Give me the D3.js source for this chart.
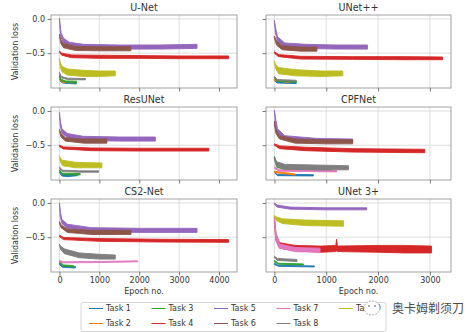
<!DOCTYPE html>
<html><head><meta charset="utf-8">
<script src="https://cdn.jsdelivr.net/npm/d3@7"></script>
<style>html,body{margin:0;padding:0;background:#fff;}svg{display:block;font-family:"DejaVu Sans",sans-serif;}</style>
</head><body>
<script>
// ---------- data ----------
const panelTitles = ["U-Net", "UNet++", "ResUNet", "CPFNet", "CS2-Net", "UNet 3+"];
const taskNames = ["Task 1","Task 2","Task 3","Task 4","Task 5","Task 6","Task 7","Task 8","Task 9"];
const taskColors = ["#1f77b4","#ff7f0e","#2ca02c","#d62728","#9467bd","#8c564b","#e377c2","#7f7f7f","#bcbd22"];
const xTicksLeft = [0,1000,2000,3000,4000];
const xTicksRight = [0,1000,2000,3000];
const yTicks = [0, -0.5];

// each curve: [taskIndex(1-based), [[epoch, lowLoss, highLoss], ...]]
const unetCurves = [
  [1, [[0,-0.86,-0.84],[20,-0.91,-0.89],[80,-0.935,-0.915],[250,-0.945,-0.925],[420,-0.95,-0.93]]],
  [2, [[0,-0.88,-0.86],[60,-0.925,-0.91],[380,-0.935,-0.92]]],
  [3, [[0,-0.84,-0.82],[40,-0.9,-0.88],[150,-0.925,-0.905],[430,-0.93,-0.91]]],
  [4, [[0,-0.49,-0.47],[60,-0.53,-0.5],[300,-0.565,-0.525],[1000,-0.575,-0.53],[2000,-0.575,-0.535],[3000,-0.58,-0.54],[4240,-0.58,-0.54]]],
  [5, [[0,-0.005,0.01],[15,-0.15,-0.08],[40,-0.27,-0.2],[100,-0.35,-0.28],[250,-0.41,-0.34],[600,-0.43,-0.37],[1500,-0.44,-0.38],[2500,-0.44,-0.38],[3450,-0.43,-0.37]]],
  [6, [[0,-0.25,-0.22],[30,-0.35,-0.3],[100,-0.42,-0.36],[400,-0.46,-0.4],[1000,-0.465,-0.405],[1790,-0.465,-0.405]]],
  [8, [[0,-0.8,-0.78],[50,-0.86,-0.84],[200,-0.885,-0.865],[650,-0.89,-0.87]]],
  [9, [[0,-0.6,-0.58],[20,-0.7,-0.64],[60,-0.77,-0.69],[200,-0.82,-0.73],[600,-0.84,-0.75],[1000,-0.84,-0.76],[1400,-0.83,-0.76]]]
];
const unetppCurves = [
  [1, [[0,-0.9,-0.88],[50,-0.935,-0.915],[420,-0.945,-0.925]]],
  [2, [[0,-0.9,-0.88],[300,-0.93,-0.915]]],
  [3, [[0,-0.87,-0.85],[60,-0.915,-0.9],[430,-0.925,-0.91]]],
  [4, [[0,-0.5,-0.48],[80,-0.55,-0.52],[500,-0.585,-0.545],[1500,-0.59,-0.55],[2500,-0.595,-0.55],[3245,-0.595,-0.555]]],
  [5, [[0,-0.05,-0.02],[20,-0.2,-0.12],[60,-0.33,-0.26],[200,-0.41,-0.35],[600,-0.43,-0.37],[1200,-0.44,-0.38],[1795,-0.44,-0.38]]],
  [6, [[0,-0.28,-0.25],[40,-0.38,-0.32],[150,-0.45,-0.39],[500,-0.47,-0.41],[820,-0.47,-0.41]]],
  [8, [[0,-0.86,-0.84],[60,-0.9,-0.885],[420,-0.91,-0.895]]],
  [9, [[0,-0.64,-0.62],[20,-0.72,-0.66],[80,-0.8,-0.71],[400,-0.83,-0.74],[900,-0.84,-0.76],[1320,-0.83,-0.76]]]
];
const resunetCurves = [
  [1, [[0,-0.9,-0.88],[60,-0.95,-0.93],[200,-0.96,-0.935],[450,-0.945,-0.925]]],
  [3, [[0,-0.88,-0.86],[80,-0.93,-0.91],[520,-0.935,-0.915]]],
  [4, [[0,-0.52,-0.5],[100,-0.555,-0.525],[800,-0.58,-0.54],[2000,-0.585,-0.545],[3000,-0.585,-0.545],[3745,-0.585,-0.545]]],
  [5, [[0,-0.05,-0.02],[20,-0.22,-0.14],[60,-0.32,-0.26],[200,-0.39,-0.33],[600,-0.43,-0.37],[1500,-0.44,-0.38],[2405,-0.44,-0.38]]],
  [6, [[0,-0.3,-0.27],[40,-0.38,-0.33],[150,-0.44,-0.39],[600,-0.47,-0.41],[1190,-0.47,-0.41]]],
  [8, [[0,-0.84,-0.82],[80,-0.885,-0.865],[500,-0.895,-0.875],[980,-0.895,-0.875]]],
  [9, [[0,-0.68,-0.66],[20,-0.74,-0.69],[80,-0.8,-0.72],[400,-0.83,-0.75],[1065,-0.83,-0.76]]]
];
const cpfnetCurves = [
  [1, [[0,-0.9,-0.88],[60,-0.945,-0.925],[750,-0.95,-0.93]]],
  [2, [[0,-0.9,-0.88],[400,-0.935,-0.92]]],
  [3, [[0,-0.7,-0.66],[40,-0.82,-0.76],[200,-0.86,-0.8],[700,-0.87,-0.82],[1100,-0.87,-0.82]]],
  [4, [[0,-0.5,-0.48],[100,-0.55,-0.51],[600,-0.58,-0.53],[1500,-0.6,-0.55],[2900,-0.61,-0.56]]],
  [5, [[0,-0.005,0.01],[20,-0.2,-0.1],[60,-0.33,-0.26],[200,-0.42,-0.36],[800,-0.45,-0.4],[1510,-0.46,-0.41]]],
  [6, [[0,-0.2,-0.15],[30,-0.33,-0.27],[100,-0.41,-0.36],[400,-0.47,-0.41],[1000,-0.48,-0.42],[1510,-0.48,-0.42]]],
  [7, [[0,-0.84,-0.82],[100,-0.88,-0.86],[1200,-0.89,-0.87]]],
  [8, [[0,-0.7,-0.67],[40,-0.8,-0.74],[200,-0.85,-0.78],[800,-0.86,-0.79],[1430,-0.86,-0.8]]]
];
const cs2netCurves = [
  [1, [[0,-0.9,-0.88],[80,-0.94,-0.92],[400,-0.95,-0.93]]],
  [3, [[0,-0.87,-0.85],[100,-0.925,-0.905],[350,-0.935,-0.915]]],
  [4, [[0,-0.49,-0.47],[100,-0.535,-0.505],[1000,-0.56,-0.52],[2500,-0.57,-0.53],[4240,-0.575,-0.535]]],
  [5, [[0,-0.02,0.0],[20,-0.2,-0.12],[60,-0.3,-0.24],[200,-0.37,-0.31],[800,-0.42,-0.36],[2000,-0.43,-0.37],[3450,-0.43,-0.37]]],
  [6, [[0,-0.3,-0.27],[40,-0.36,-0.32],[200,-0.43,-0.38],[800,-0.46,-0.4],[1795,-0.46,-0.4]]],
  [7, [[0,-0.86,-0.84],[100,-0.875,-0.86],[1000,-0.87,-0.855],[1960,-0.86,-0.845]]],
  [8, [[0,-0.62,-0.6],[30,-0.68,-0.63],[120,-0.74,-0.67],[500,-0.8,-0.73],[1000,-0.82,-0.75],[1400,-0.82,-0.76]]]
];
const unet3pCurves = [
  [1, [[0,-0.9,-0.88],[80,-0.925,-0.91],[770,-0.935,-0.92]]],
  [3, [[0,-0.86,-0.84],[80,-0.895,-0.88],[560,-0.905,-0.89]]],
  [4, [[0,-0.3,-0.2],[30,-0.55,-0.45],[100,-0.66,-0.58],[400,-0.7,-0.62],[900,-0.72,-0.63],[1185,-0.71,-0.62],[1200,-0.7,-0.53],[1215,-0.71,-0.63],[2000,-0.72,-0.62],[2500,-0.73,-0.62],[3030,-0.73,-0.63]]],
  [5, [[0,-0.02,0.0],[50,-0.06,-0.03],[300,-0.09,-0.06],[1000,-0.1,-0.07],[1780,-0.1,-0.07]]],
  [7, [[0,-0.3,-0.2],[30,-0.55,-0.45],[100,-0.66,-0.6],[400,-0.71,-0.65],[880,-0.72,-0.66]]],
  [8, [[0,-0.8,-0.78],[60,-0.84,-0.81],[435,-0.855,-0.825]]],
  [9, [[0,-0.2,-0.18],[30,-0.25,-0.2],[150,-0.3,-0.23],[600,-0.33,-0.25],[1335,-0.34,-0.26]]]
];
const panelCurves = [unetCurves, unetppCurves, resunetCurves, cpfnetCurves, cs2netCurves, unet3pCurves];

// ---------- layout ----------
const W = 474, H = 332;
const colX0 = [51, 266], colX1 = [237, 451];
const rowTop = [15, 107, 199], panelH = 73;

const svg = d3.select("body").append("svg").attr("width", W).attr("height", H);
svg.append("rect").attr("width", W).attr("height", H).attr("fill", "#fff");

// domains like matplotlib autoscale with 5% margins, shared per column (x) and globally (y)
const allPts = panelCurves.flatMap(pc => pc.flatMap(c => c[1]));
const yMin = d3.min(allPts, d => d[1]), yMax = d3.max(allPts, d => d[2]);
const yr = yMax - yMin;
const yDomain = [yMin - 0.05 * yr, yMax + 0.05 * yr];
const colMax = [0, 1].map(col => d3.max(panelCurves.filter((_, i) => i % 2 === col).flatMap(pc => pc.flatMap(c => c[1])), d => d[0]));
const xDomains = colMax.map(m => [-0.05 * m, 1.05 * m]);

const textCol = "#333";
const yFmt = d3.format(".1f");

panelCurves.forEach((curves, i) => {
  const col = i % 2, row = Math.floor(i / 2);
  const x = d3.scaleLinear().domain(xDomains[col]).range([colX0[col], colX1[col]]);
  const y = d3.scaleLinear().domain(yDomain).range([rowTop[row] + panelH, rowTop[row]]);
  const g = svg.append("g");
  const clipId = "clip" + i;
  g.append("clipPath").attr("id", clipId).append("rect")
    .attr("x", colX0[col]).attr("y", rowTop[row]).attr("width", colX1[col] - colX0[col]).attr("height", panelH);

  const xt = col === 0 ? xTicksLeft : xTicksRight;
  // grid
  g.selectAll(".gx").data(xt).enter().append("line")
    .attr("x1", d => x(d)).attr("x2", d => x(d)).attr("y1", rowTop[row]).attr("y2", rowTop[row] + panelH)
    .attr("stroke", "#d6d6d6").attr("stroke-width", 0.8);
  g.selectAll(".gy").data(yTicks).enter().append("line")
    .attr("x1", colX0[col]).attr("x2", colX1[col]).attr("y1", d => y(d)).attr("y2", d => y(d))
    .attr("stroke", "#d6d6d6").attr("stroke-width", 0.8);

  // curves (bands of noisy loss)
  const area = d3.area().x(d => x(d[0])).y0(d => y(d[1])).y1(d => y(d[2]));
  const cg = g.append("g").attr("clip-path", `url(#${clipId})`);
  curves.slice().sort((a, b) => a[0] - b[0]).forEach(c => {
    cg.append("path").attr("d", area(c[1]))
      .attr("fill", taskColors[c[0] - 1]).attr("stroke", taskColors[c[0] - 1])
      .attr("stroke-width", 0.9).attr("stroke-linejoin", "round");
  });

  // frame
  g.append("rect").attr("x", colX0[col]).attr("y", rowTop[row])
    .attr("width", colX1[col] - colX0[col]).attr("height", panelH)
    .attr("fill", "none").attr("stroke", "#8a8a8a").attr("stroke-width", 0.8);

  // axes
  const xa = g.append("g").attr("transform", `translate(0,${rowTop[row] + panelH})`)
    .call(d3.axisBottom(x).tickValues(xt).tickSize(3.5).tickPadding(2)
      .tickFormat(row === 2 ? d3.format("d") : () => ""));
  const ya = g.append("g").attr("transform", `translate(${colX0[col]},0)`)
    .call(d3.axisLeft(y).tickValues(yTicks).tickSize(3.5).tickPadding(2.5)
      .tickFormat(col === 0 ? yFmt : () => ""));
  [xa, ya].forEach(a => {
    a.select(".domain").remove();
    a.selectAll("line").attr("stroke", "#555").attr("stroke-width", 0.8);
    a.selectAll("text").attr("fill", textCol).attr("font-size", 8).attr("font-family", "DejaVu Sans");
  });

  // title
  g.append("text").attr("x", (colX0[col] + colX1[col]) / 2).attr("y", rowTop[row] - 4)
    .attr("text-anchor", "middle").attr("font-size", 9.6).attr("fill", textCol).text(panelTitles[i]);

  if (col === 0) {
    g.append("text").attr("transform", `translate(18,${rowTop[row] + panelH / 2}) rotate(-90)`)
      .attr("text-anchor", "middle").attr("font-size", 8).attr("fill", textCol).text("Validation loss");
  }
  if (row === 2) {
    g.append("text").attr("x", (colX0[col] + colX1[col]) / 2).attr("y", 294)
      .attr("text-anchor", "middle").attr("font-size", 8).attr("fill", textCol).text("Epoch no.");
  }
});

// ---------- legend ----------
const leg = svg.append("g");
leg.append("rect").attr("x", 81).attr("y", 302.5).attr("width", 305).attr("height", 29).attr("rx", 2)
  .attr("fill", "#fff").attr("stroke", "#cccccc").attr("stroke-width", 0.8);
taskNames.forEach((t, k) => {
  const c = Math.floor(k / 2), r = k % 2;
  const tx = 106 + c * 62.5, ty = 308.5 + r * 15;
  leg.append("line").attr("x1", tx - 17).attr("x2", tx - 3).attr("y1", ty).attr("y2", ty)
    .attr("stroke", taskColors[k]).attr("stroke-width", 1);
  leg.append("text").attr("x", tx).attr("y", ty).attr("dy", "0.35em").attr("font-size", 8)
    .attr("fill", textCol).text(t);
});

// ---------- watermark ----------
const wm = svg.append("g");
wm.append("ellipse").attr("cx", 372).attr("cy", 308).attr("rx", 8).attr("ry", 7)
  .attr("fill", "#fff").attr("stroke", "#9a9a9a").attr("stroke-width", 0.8).attr("stroke-dasharray", "2,1.2");
wm.append("circle").attr("cx", 369).attr("cy", 306).attr("r", 0.9).attr("fill", "#888");
wm.append("circle").attr("cx", 375).attr("cy", 306).attr("r", 0.9).attr("fill", "#888");
wm.append("text").attr("x", 392).attr("y", 313).attr("font-size", 12)
  .attr("font-family", "Noto Sans CJK SC").attr("fill", "#4a4a4a").text("奥卡姆剃须刀");
</script>
</body></html>
